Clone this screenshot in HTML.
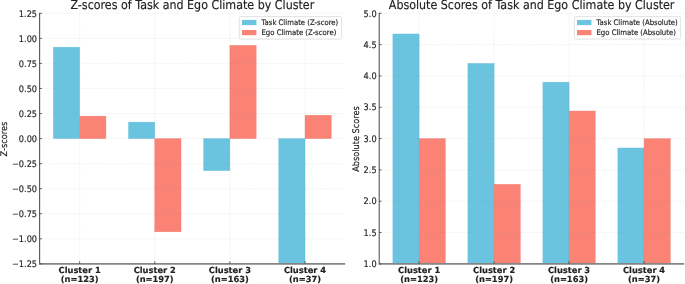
<!DOCTYPE html>
<html><head><meta charset="utf-8"><title>Task and Ego Climate by Cluster</title>
<style>
html,body{margin:0;padding:0;background:#fff;}
body{width:685px;height:284px;overflow:hidden;}
svg{display:block;}
svg{text-rendering:geometricPrecision;}
svg text{font-family:"DejaVu Sans","Liberation Sans",sans-serif;fill:#222;stroke:#222;stroke-width:0.16px;}
.b{font-weight:bold;stroke:none;}
</style></head><body>
<svg width="685" height="284" viewBox="0 0 685 284">
<rect width="685" height="284" fill="#fff"/>
<g opacity="0.97">
<rect x="53.35" y="47.17" width="26.29" height="91.40" fill="#66c3e0" stroke="#52b6d8" stroke-width="0.45" stroke-opacity="0.7"/>
<rect x="79.64" y="116.13" width="26.29" height="22.45" fill="#fa8072" stroke="#f26c5f" stroke-width="0.45" stroke-opacity="0.7"/>
<rect x="128.47" y="122.14" width="26.29" height="16.44" fill="#66c3e0" stroke="#52b6d8" stroke-width="0.45" stroke-opacity="0.7"/>
<rect x="154.76" y="138.58" width="26.29" height="93.20" fill="#fa8072" stroke="#f26c5f" stroke-width="0.45" stroke-opacity="0.7"/>
<rect x="203.59" y="138.58" width="26.29" height="32.07" fill="#66c3e0" stroke="#52b6d8" stroke-width="0.45" stroke-opacity="0.7"/>
<rect x="229.89" y="45.37" width="26.29" height="93.20" fill="#fa8072" stroke="#f26c5f" stroke-width="0.45" stroke-opacity="0.7"/>
<rect x="278.72" y="138.58" width="26.29" height="125.28" fill="#66c3e0" stroke="#52b6d8" stroke-width="0.45" stroke-opacity="0.7"/>
<rect x="305.01" y="115.22" width="26.29" height="23.35" fill="#fa8072" stroke="#f26c5f" stroke-width="0.45" stroke-opacity="0.7"/>
</g>
<g stroke="#909090" stroke-opacity="0.17" stroke-width="0.75" stroke-dasharray="1.0 0.67" fill="none">
<line x1="39.45" x2="345.20" y1="263.85" y2="263.85"/>
<line x1="39.45" x2="345.20" y1="238.80" y2="238.80"/>
<line x1="39.45" x2="345.20" y1="213.74" y2="213.74"/>
<line x1="39.45" x2="345.20" y1="188.69" y2="188.69"/>
<line x1="39.45" x2="345.20" y1="163.63" y2="163.63"/>
<line x1="39.45" x2="345.20" y1="138.58" y2="138.58"/>
<line x1="39.45" x2="345.20" y1="113.52" y2="113.52"/>
<line x1="39.45" x2="345.20" y1="88.47" y2="88.47"/>
<line x1="39.45" x2="345.20" y1="63.41" y2="63.41"/>
<line x1="39.45" x2="345.20" y1="38.36" y2="38.36"/>
<line x1="39.45" x2="345.20" y1="13.30" y2="13.30"/>
<line x1="79.64" x2="79.64" y1="13.30" y2="263.85"/>
<line x1="154.76" x2="154.76" y1="13.30" y2="263.85"/>
<line x1="229.89" x2="229.89" y1="13.30" y2="263.85"/>
<line x1="305.01" x2="305.01" y1="13.30" y2="263.85"/>
</g>
<g stroke="#444444" stroke-width="1.0" fill="none">
<line x1="39.65" x2="39.65" y1="12.90" y2="264.35"/>
</g>
<line x1="39.15" x2="345.20" y1="263.95" y2="263.95" stroke="#858585" stroke-width="1.8"/>
<g stroke="#444444" stroke-width="0.8" fill="none">
<line x1="39.45" x2="42.05" y1="263.85" y2="263.85"/>
<line x1="39.45" x2="42.05" y1="238.80" y2="238.80"/>
<line x1="39.45" x2="42.05" y1="213.74" y2="213.74"/>
<line x1="39.45" x2="42.05" y1="188.69" y2="188.69"/>
<line x1="39.45" x2="42.05" y1="163.63" y2="163.63"/>
<line x1="39.45" x2="42.05" y1="138.58" y2="138.58"/>
<line x1="39.45" x2="42.05" y1="113.52" y2="113.52"/>
<line x1="39.45" x2="42.05" y1="88.47" y2="88.47"/>
<line x1="39.45" x2="42.05" y1="63.41" y2="63.41"/>
<line x1="39.45" x2="42.05" y1="38.36" y2="38.36"/>
<line x1="39.45" x2="42.05" y1="13.30" y2="13.30"/>
<line x1="79.64" x2="79.64" y1="263.85" y2="261.25"/>
<line x1="154.76" x2="154.76" y1="263.85" y2="261.25"/>
<line x1="229.89" x2="229.89" y1="263.85" y2="261.25"/>
<line x1="305.01" x2="305.01" y1="263.85" y2="261.25"/>
</g>
<g font-size="9.10" text-anchor="end">
<text transform="translate(37.05 267.07) scale(0.900 1)">−1.25</text>
<text transform="translate(37.05 242.02) scale(0.900 1)">−1.00</text>
<text transform="translate(37.05 216.96) scale(0.900 1)">−0.75</text>
<text transform="translate(37.05 191.91) scale(0.900 1)">−0.50</text>
<text transform="translate(37.05 166.85) scale(0.900 1)">−0.25</text>
<text transform="translate(37.05 141.80) scale(0.900 1)">0.00</text>
<text transform="translate(37.05 116.74) scale(0.900 1)">0.25</text>
<text transform="translate(37.05 91.69) scale(0.900 1)">0.50</text>
<text transform="translate(37.05 66.63) scale(0.900 1)">0.75</text>
<text transform="translate(37.05 41.58) scale(0.900 1)">1.00</text>
<text transform="translate(37.05 16.52) scale(0.900 1)">1.25</text>
</g>
<g font-size="8.30" text-anchor="middle" class="b">
<text x="79.64" y="272.60">Cluster 1</text>
<text x="79.64" y="281.80">(n=123)</text>
<text x="154.76" y="272.60">Cluster 2</text>
<text x="154.76" y="281.80">(n=197)</text>
<text x="229.89" y="272.60">Cluster 3</text>
<text x="229.89" y="281.80">(n=163)</text>
<text x="305.01" y="272.60">Cluster 4</text>
<text x="305.01" y="281.80">(n=37)</text>
</g>
<text transform="translate(192.32 9.20) scale(0.900 1)" font-size="12.33" text-anchor="middle">Z-scores of Task and Ego Climate by Cluster</text>
<text transform="translate(7.20 139.08) rotate(-90) scale(0.900 1)" font-size="9.10" text-anchor="middle">Z-scores</text>
<rect x="239.30" y="16.60" width="102.30" height="22.50" rx="1.6" ry="1.6" fill="#fff" fill-opacity="0.8" stroke="#dadada" stroke-width="0.8"/>
<rect x="242.00" y="19.90" width="14.4" height="5.2" fill="#66c3e0" opacity="0.97"/>
<rect x="242.00" y="30.00" width="14.4" height="5.2" fill="#fa8072" opacity="0.97"/>
<g font-size="7.66">
<text transform="translate(261.50 25.10) scale(0.900 1)">Task Climate (Z-score)</text>
<text transform="translate(261.50 35.20) scale(0.900 1)">Ego Climate (Z-score)</text>
</g>
<g opacity="0.97">
<rect x="392.87" y="33.97" width="26.25" height="229.88" fill="#66c3e0" stroke="#52b6d8" stroke-width="0.45" stroke-opacity="0.7"/>
<rect x="419.12" y="138.58" width="26.25" height="125.28" fill="#fa8072" stroke="#f26c5f" stroke-width="0.45" stroke-opacity="0.7"/>
<rect x="467.86" y="63.41" width="26.25" height="200.44" fill="#66c3e0" stroke="#52b6d8" stroke-width="0.45" stroke-opacity="0.7"/>
<rect x="494.11" y="184.30" width="26.25" height="79.55" fill="#fa8072" stroke="#f26c5f" stroke-width="0.45" stroke-opacity="0.7"/>
<rect x="542.85" y="82.20" width="26.25" height="181.65" fill="#66c3e0" stroke="#52b6d8" stroke-width="0.45" stroke-opacity="0.7"/>
<rect x="569.09" y="111.01" width="26.25" height="152.84" fill="#fa8072" stroke="#f26c5f" stroke-width="0.45" stroke-opacity="0.7"/>
<rect x="617.84" y="147.97" width="26.25" height="115.88" fill="#66c3e0" stroke="#52b6d8" stroke-width="0.45" stroke-opacity="0.7"/>
<rect x="644.08" y="138.58" width="26.25" height="125.28" fill="#fa8072" stroke="#f26c5f" stroke-width="0.45" stroke-opacity="0.7"/>
</g>
<g stroke="#909090" stroke-opacity="0.17" stroke-width="0.75" stroke-dasharray="1.0 0.67" fill="none">
<line x1="379.00" x2="684.20" y1="263.85" y2="263.85"/>
<line x1="379.00" x2="684.20" y1="232.53" y2="232.53"/>
<line x1="379.00" x2="684.20" y1="201.21" y2="201.21"/>
<line x1="379.00" x2="684.20" y1="169.89" y2="169.89"/>
<line x1="379.00" x2="684.20" y1="138.58" y2="138.58"/>
<line x1="379.00" x2="684.20" y1="107.26" y2="107.26"/>
<line x1="379.00" x2="684.20" y1="75.94" y2="75.94"/>
<line x1="379.00" x2="684.20" y1="44.62" y2="44.62"/>
<line x1="379.00" x2="684.20" y1="13.30" y2="13.30"/>
<line x1="419.12" x2="419.12" y1="13.30" y2="263.85"/>
<line x1="494.11" x2="494.11" y1="13.30" y2="263.85"/>
<line x1="569.09" x2="569.09" y1="13.30" y2="263.85"/>
<line x1="644.08" x2="644.08" y1="13.30" y2="263.85"/>
</g>
<g stroke="#444444" stroke-width="1.0" fill="none">
<line x1="379.20" x2="379.20" y1="12.90" y2="264.35"/>
</g>
<line x1="378.70" x2="684.20" y1="263.95" y2="263.95" stroke="#858585" stroke-width="1.8"/>
<g stroke="#444444" stroke-width="0.8" fill="none">
<line x1="379.00" x2="381.60" y1="263.85" y2="263.85"/>
<line x1="379.00" x2="381.60" y1="232.53" y2="232.53"/>
<line x1="379.00" x2="381.60" y1="201.21" y2="201.21"/>
<line x1="379.00" x2="381.60" y1="169.89" y2="169.89"/>
<line x1="379.00" x2="381.60" y1="138.58" y2="138.58"/>
<line x1="379.00" x2="381.60" y1="107.26" y2="107.26"/>
<line x1="379.00" x2="381.60" y1="75.94" y2="75.94"/>
<line x1="379.00" x2="381.60" y1="44.62" y2="44.62"/>
<line x1="379.00" x2="381.60" y1="13.30" y2="13.30"/>
<line x1="419.12" x2="419.12" y1="263.85" y2="261.25"/>
<line x1="494.11" x2="494.11" y1="263.85" y2="261.25"/>
<line x1="569.09" x2="569.09" y1="263.85" y2="261.25"/>
<line x1="644.08" x2="644.08" y1="263.85" y2="261.25"/>
</g>
<g font-size="9.10" text-anchor="end">
<text transform="translate(376.60 267.07) scale(0.900 1)">1.0</text>
<text transform="translate(376.60 235.75) scale(0.900 1)">1.5</text>
<text transform="translate(376.60 204.43) scale(0.900 1)">2.0</text>
<text transform="translate(376.60 173.12) scale(0.900 1)">2.5</text>
<text transform="translate(376.60 141.80) scale(0.900 1)">3.0</text>
<text transform="translate(376.60 110.48) scale(0.900 1)">3.5</text>
<text transform="translate(376.60 79.16) scale(0.900 1)">4.0</text>
<text transform="translate(376.60 47.84) scale(0.900 1)">4.5</text>
<text transform="translate(376.60 16.52) scale(0.900 1)">5.0</text>
</g>
<g font-size="8.30" text-anchor="middle" class="b">
<text x="419.12" y="272.60">Cluster 1</text>
<text x="419.12" y="281.80">(n=123)</text>
<text x="494.11" y="272.60">Cluster 2</text>
<text x="494.11" y="281.80">(n=197)</text>
<text x="569.09" y="272.60">Cluster 3</text>
<text x="569.09" y="281.80">(n=163)</text>
<text x="644.08" y="272.60">Cluster 4</text>
<text x="644.08" y="281.80">(n=37)</text>
</g>
<text transform="translate(531.60 9.20) scale(0.900 1)" font-size="12.33" text-anchor="middle">Absolute Scores of Task and Ego Climate by Cluster</text>
<text transform="translate(358.60 139.08) rotate(-90) scale(0.900 1)" font-size="9.10" text-anchor="middle">Absolute Scores</text>
<rect x="574.30" y="16.60" width="106.40" height="22.50" rx="1.6" ry="1.6" fill="#fff" fill-opacity="0.8" stroke="#dadada" stroke-width="0.8"/>
<rect x="577.00" y="19.90" width="14.4" height="5.2" fill="#66c3e0" opacity="0.97"/>
<rect x="577.00" y="30.00" width="14.4" height="5.2" fill="#fa8072" opacity="0.97"/>
<g font-size="7.66">
<text transform="translate(596.50 25.10) scale(0.900 1)">Task Climate (Absolute)</text>
<text transform="translate(596.50 35.20) scale(0.900 1)">Ego Climate (Absolute)</text>
</g>
</svg>
</body></html>
